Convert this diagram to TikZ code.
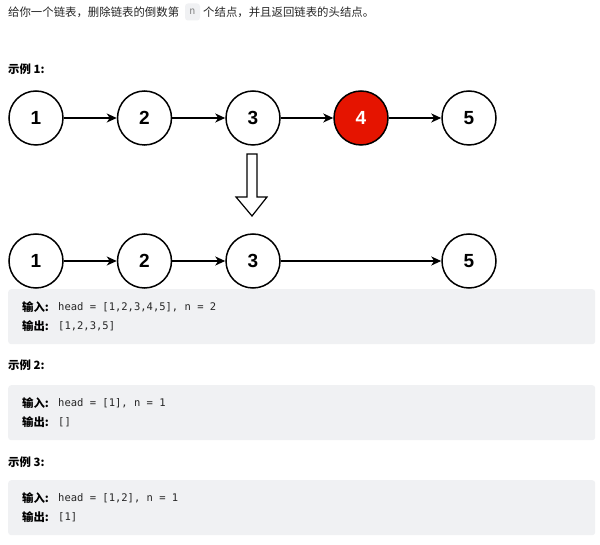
\documentclass[tikz,border=0pt]{standalone}
\usepackage{fontspec}
\setmainfont{Liberation Sans}
\newfontfamily\cjk{Noto Sans CJK SC}
\newfontfamily\mono{DejaVu Sans Mono}
\usetikzlibrary{arrows.meta}
\definecolor{codebg}{RGB}{240,241,243}
\definecolor{txt}{RGB}{38,38,38}
\definecolor{nodered}{RGB}{229,20,0}
\begin{document}
\begin{tikzpicture}[x=1pt,y=-1pt,
  every node/.style={inner sep=0pt},
  ll/.style={circle, draw=black, line width=1.5pt, minimum size=54pt, font=\fontsize{19}{19}\selectfont\bfseries, fill=white},
  delnode/.style={ll, fill=nodered, text=white},
  link/.style={-{Stealth[length=10pt,width=9pt,inset=3pt]}, line width=1.6pt},
  hd/.style={anchor=west, font=\cjk\fontsize{11.4}{13}\selectfont, text=txt},
  ex/.style={anchor=west, font=\cjk\bfseries\fontsize{11.4}{13}\selectfont, text=black},
  codebox/.style={fill=codebg, rounded corners=3pt},
  lab/.style={anchor=west, font=\cjk\bfseries\fontsize{11.4}{13}\selectfont, text=black},
  code/.style={anchor=west, font=\mono\fontsize{10.5}{13}\selectfont, text=txt}
]
\useasboundingbox[fill=white] (0,0) rectangle (600,545);

% header
\node[hd] (h1) at (8,12) {给你一个链表，删除链表的倒数第};
\node[codebox, minimum width=15pt, minimum height=17pt, font=\mono\fontsize{10}{10}\selectfont, text=gray] (hn) at (192.5,12) {n};
\node[hd] (h2) at (203,12) {个结点，并且返回链表的头结点。};

% example 1
\node[ex] (e1) at (8,69) {示例 1:};
\node[ll] (a1) at (36,118) {1};
\node[ll] (a2) at (144.5,118) {2};
\node[ll] (a3) at (253,118) {3};
\node[delnode] (a4) at (361,118) {4};
\node[ll] (a5) at (469,118) {5};
\draw[link] (a1) -- (a2);
\draw[link] (a2) -- (a3);
\draw[link] (a3) -- (a4);
\draw[link] (a4) -- (a5);

\draw[line width=1.2pt, fill=white] (247,154) -- (257,154) -- (257,197) -- (267,197) -- (252,216) -- (236,197) -- (247,197) -- cycle;

\node[ll] (b1) at (36,261) {1};
\node[ll] (b2) at (144.5,261) {2};
\node[ll] (b3) at (253,261) {3};
\node[ll] (b5) at (469,261) {5};
\draw[link] (b1) -- (b2);
\draw[link] (b2) -- (b3);
\draw[link] (b3) -- (b5);

\node[codebox, anchor=north west, minimum width=587pt, minimum height=55pt] (box1) at (8,289) {};
\node[lab] (i1) at (22,307) {输入:};
\node[code] (c1) at (58,307) {head = [1,2,3,4,5], n = 2};
\node[lab] (o1) at (22,326) {输出:};
\node[code] (d1) at (58,326) {[1,2,3,5]};

% example 2
\node[ex] (e2) at (8,365) {示例 2:};
\node[codebox, anchor=north west, minimum width=587pt, minimum height=55pt] (box2) at (8,385) {};
\node[lab] (i2) at (22,403) {输入:};
\node[code] (c2) at (58,403) {head = [1], n = 1};
\node[lab] (o2) at (22,422) {输出:};
\node[code] (d2) at (58,422) {[]};

% example 3
\node[ex] (e3) at (8,462) {示例 3:};
\node[codebox, anchor=north west, minimum width=587pt, minimum height=55pt] (box3) at (8,480) {};
\node[lab] (i3) at (22,498) {输入:};
\node[code] (c3) at (58,498) {head = [1,2], n = 1};
\node[lab] (o3) at (22,517) {输出:};
\node[code] (d3) at (58,517) {[1]};
\end{tikzpicture}
\end{document}
